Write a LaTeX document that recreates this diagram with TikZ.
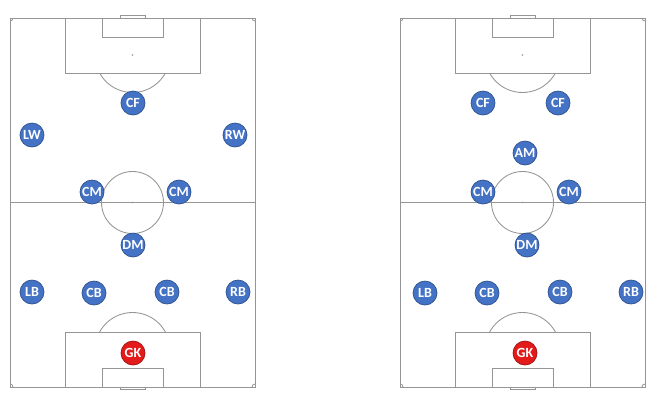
\documentclass[tikz,border=0pt]{standalone}
\usepackage{fontspec}
\setmainfont{Carlito}
\definecolor{pblue}{HTML}{4472C4}
\definecolor{pblueb}{HTML}{2F528F}
\definecolor{pred}{HTML}{E31B1B}
\definecolor{predb}{HTML}{A01010}
\definecolor{pline}{HTML}{959595}
\begin{document}
\begin{tikzpicture}[x=1pt,y=-1pt,
  pitchline/.style={draw=pline,line width=0.85pt},
  player/.style={circle,fill=pblue,draw=pblueb,line width=0.7pt,minimum size=24pt,inner sep=0pt,text=white,font=\bfseries\fontsize{14}{15}\selectfont},
  keeper/.style={player,fill=pred,draw=predb}]
\useasboundingbox (0,0) rectangle (655,400);
\fill[white] (0,0) rectangle (655,400);
\foreach \o in {0,390}{
  \begin{scope}[xshift=\o pt]
    % outline and halfway line
    \draw[pitchline] (10,18) rectangle (255,387);
    \draw[pitchline] (10,202.5) -- (255,202.5);
    % centre circle and spot
    \draw[pitchline] (132.5,202.5) circle[radius=31];
    \fill[pline] (132.5,202.5) circle[radius=0.8];
    % top penalty area
    \draw[pitchline] (65,18) rectangle (200,73);
    \draw[pitchline] (102,18) rectangle (163,37);
    \draw[pitchline,fill=white] (120,15.5) rectangle (145,18);
    \fill[pline] (132.5,55) circle[radius=0.8];
    \begin{scope}
      \clip (0,73) rectangle (265,100);
      \draw[pitchline] (132.5,55) circle[radius=37.5];
    \end{scope}
    % bottom penalty area
    \draw[pitchline] (65,332) rectangle (200,387);
    \draw[pitchline] (102,368) rectangle (163,387);
    \draw[pitchline,fill=white] (120,387) rectangle (145,389.5);
    \begin{scope}
      \clip (0,305) rectangle (265,332);
      \draw[pitchline] (132.5,350) circle[radius=37.5];
    \end{scope}
    % corner arcs
    \begin{scope}
      \clip (10,18) rectangle (255,387);
      \draw[pitchline] (10,18) circle[radius=3];
      \draw[pitchline] (255,18) circle[radius=3];
      \draw[pitchline] (10,387) circle[radius=3];
      \draw[pitchline] (255,387) circle[radius=3];
    \end{scope}
  \end{scope}
}
% left formation
\node[player] (lcf) at (133,103) {CF};
\node[player] (llw) at (32,135) {LW};
\node[player] (lrw) at (235,135) {RW};
\node[player] (lcm1) at (92,192) {CM};
\node[player] (lcm2) at (179,192) {CM};
\node[player] (ldm) at (133,245) {DM};
\node[player] (llb) at (32,292) {LB};
\node[player] (lcb1) at (94,293) {CB};
\node[player] (lcb2) at (167,292) {CB};
\node[player] (lrb) at (238,292) {RB};
\node[keeper] (lgk) at (133,353) {GK};
% right formation
\node[player] (rcf1) at (483,103) {CF};
\node[player] (rcf2) at (558,103) {CF};
\node[player] (ram) at (525,153) {AM};
\node[player] (rcm1) at (483,192) {CM};
\node[player] (rcm2) at (569,192) {CM};
\node[player] (rdm) at (527,245) {DM};
\node[player] (rlb) at (425,293) {LB};
\node[player] (rcb1) at (487,293) {CB};
\node[player] (rcb2) at (560,292) {CB};
\node[player] (rrb) at (631,292) {RB};
\node[keeper] (rgk) at (525,353) {GK};
\end{tikzpicture}
\end{document}
